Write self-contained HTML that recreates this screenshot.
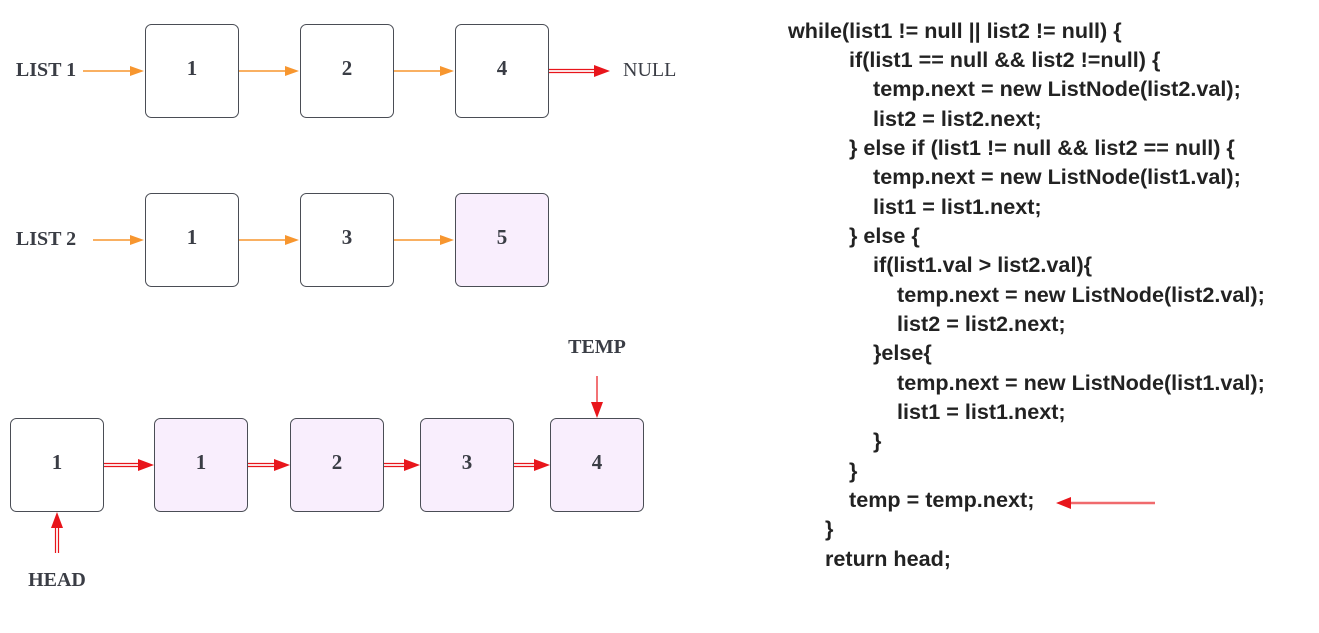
<!DOCTYPE html>
<html><head><style>
body{margin:0;background:#fff}
</style></head><body>
<svg width="1319" height="633" xmlns="http://www.w3.org/2000/svg" style="display:block">
<g fill="#fff" stroke="#4a4d55" stroke-width="1">
<rect x="145.5" y="24.5" width="93" height="93" rx="6"/>
<rect x="300.5" y="24.5" width="93" height="93" rx="6"/>
<rect x="455.5" y="24.5" width="93" height="93" rx="6"/>
<rect x="145.5" y="193.5" width="93" height="93" rx="6"/>
<rect x="300.5" y="193.5" width="93" height="93" rx="6"/>
<rect x="455.5" y="193.5" width="93" height="93" rx="6" fill="#f9eefd"/>
<rect x="10.5" y="418.5" width="93" height="93" rx="6"/>
<rect x="154.5" y="418.5" width="93" height="93" rx="6" fill="#f9eefd"/>
<rect x="290.5" y="418.5" width="93" height="93" rx="6" fill="#f9eefd"/>
<rect x="420.5" y="418.5" width="93" height="93" rx="6" fill="#f9eefd"/>
<rect x="550.5" y="418.5" width="93" height="93" rx="6" fill="#f9eefd"/>
</g>
<g font-family="Liberation Serif, serif" font-weight="bold" font-size="21" fill="#3a3d45" text-anchor="middle">
<text x="192" y="75">1</text><text x="347" y="75">2</text><text x="502" y="75">4</text>
<text x="192" y="244">1</text><text x="347" y="244">3</text><text x="502" y="244">5</text>
<text x="57" y="469">1</text><text x="201" y="469">1</text><text x="337" y="469">2</text><text x="467" y="469">3</text><text x="597" y="469">4</text>
</g>
<g font-family="Liberation Serif, serif" font-weight="bold" font-size="20" fill="#3a3d45" text-anchor="middle">
<text x="46" y="76">LIST 1</text>
<text x="46" y="245">LIST 2</text>
<text x="597" y="353">TEMP</text>
<text x="57" y="586">HEAD</text>
</g>
<text x="623" y="76" font-family="Liberation Serif, serif" font-size="20" fill="#3a3d45">NULL</text>
<g stroke="#f7962f" stroke-width="1.5" fill="none">
<line x1="83" y1="71" x2="133" y2="71"/><line x1="239" y1="71" x2="288" y2="71"/><line x1="394" y1="71" x2="443" y2="71"/>
<line x1="93" y1="240" x2="133" y2="240"/><line x1="239" y1="240" x2="288" y2="240"/><line x1="394" y1="240" x2="443" y2="240"/>
</g>
<g fill="#f7962f">
<path d="M130,66 L144,71 L130,76z"/><path d="M285,66 L299,71 L285,76z"/><path d="M440,66 L454,71 L440,76z"/>
<path d="M130,235 L144,240 L130,245z"/><path d="M285,235 L299,240 L285,245z"/><path d="M440,235 L454,240 L440,245z"/>
</g>
<g stroke="#e8151b" stroke-width="1.2" fill="none">
<line x1="549" y1="69.5" x2="596" y2="69.5"/><line x1="549" y1="72.5" x2="596" y2="72.5"/>
<line x1="104" y1="463.5" x2="140" y2="463.5"/><line x1="104" y1="466.5" x2="140" y2="466.5"/>
<line x1="248" y1="463.5" x2="276" y2="463.5"/><line x1="248" y1="466.5" x2="276" y2="466.5"/>
<line x1="384" y1="463.5" x2="406" y2="463.5"/><line x1="384" y1="466.5" x2="406" y2="466.5"/>
<line x1="514" y1="463.5" x2="536" y2="463.5"/><line x1="514" y1="466.5" x2="536" y2="466.5"/>
<line x1="55.5" y1="528" x2="55.5" y2="553"/><line x1="58.5" y1="528" x2="58.5" y2="553"/>
<line x1="597" y1="376" x2="597" y2="404"/>
</g>
<line x1="1068" y1="503" x2="1155" y2="503" stroke="#f06a6d" stroke-width="2.5"/>
<g fill="#e8151b">
<path d="M594,65 L610,71 L594,77z"/>
<path d="M138,459 L154,465 L138,471z"/><path d="M274,459 L290,465 L274,471z"/><path d="M404,459 L420,465 L404,471z"/><path d="M534,459 L550,465 L534,471z"/>
<path d="M51,528 L57,512 L63,528z"/>
<path d="M591,402 L597,418 L603,402z"/>
<path d="M1071,497 L1056,503 L1071,509z"/>
</g>
<g font-family="Liberation Sans, sans-serif" font-weight="bold" font-size="21.6" fill="#222">
<text x="788" y="38">while(list1 != null || list2 != null) {</text>
<text x="849" y="67">if(list1 == null &amp;&amp; list2 !=null) {</text>
<text x="873" y="96">temp.next = new ListNode(list2.val);</text>
<text x="873" y="126">list2 = list2.next;</text>
<text x="849" y="155">} else if (list1 != null &amp;&amp; list2 == null) {</text>
<text x="873" y="184">temp.next = new ListNode(list1.val);</text>
<text x="873" y="214">list1 = list1.next;</text>
<text x="849" y="243">} else {</text>
<text x="873" y="272">if(list1.val &gt; list2.val){</text>
<text x="897" y="302">temp.next = new ListNode(list2.val);</text>
<text x="897" y="331">list2 = list2.next;</text>
<text x="873" y="360">}else{</text>
<text x="897" y="390">temp.next = new ListNode(list1.val);</text>
<text x="897" y="419">list1 = list1.next;</text>
<text x="873" y="448">}</text>
<text x="849" y="478">}</text>
<text x="849" y="507">temp = temp.next;</text>
<text x="825" y="536">}</text>
<text x="825" y="566">return head;</text>
</g>
</svg>
</body></html>
